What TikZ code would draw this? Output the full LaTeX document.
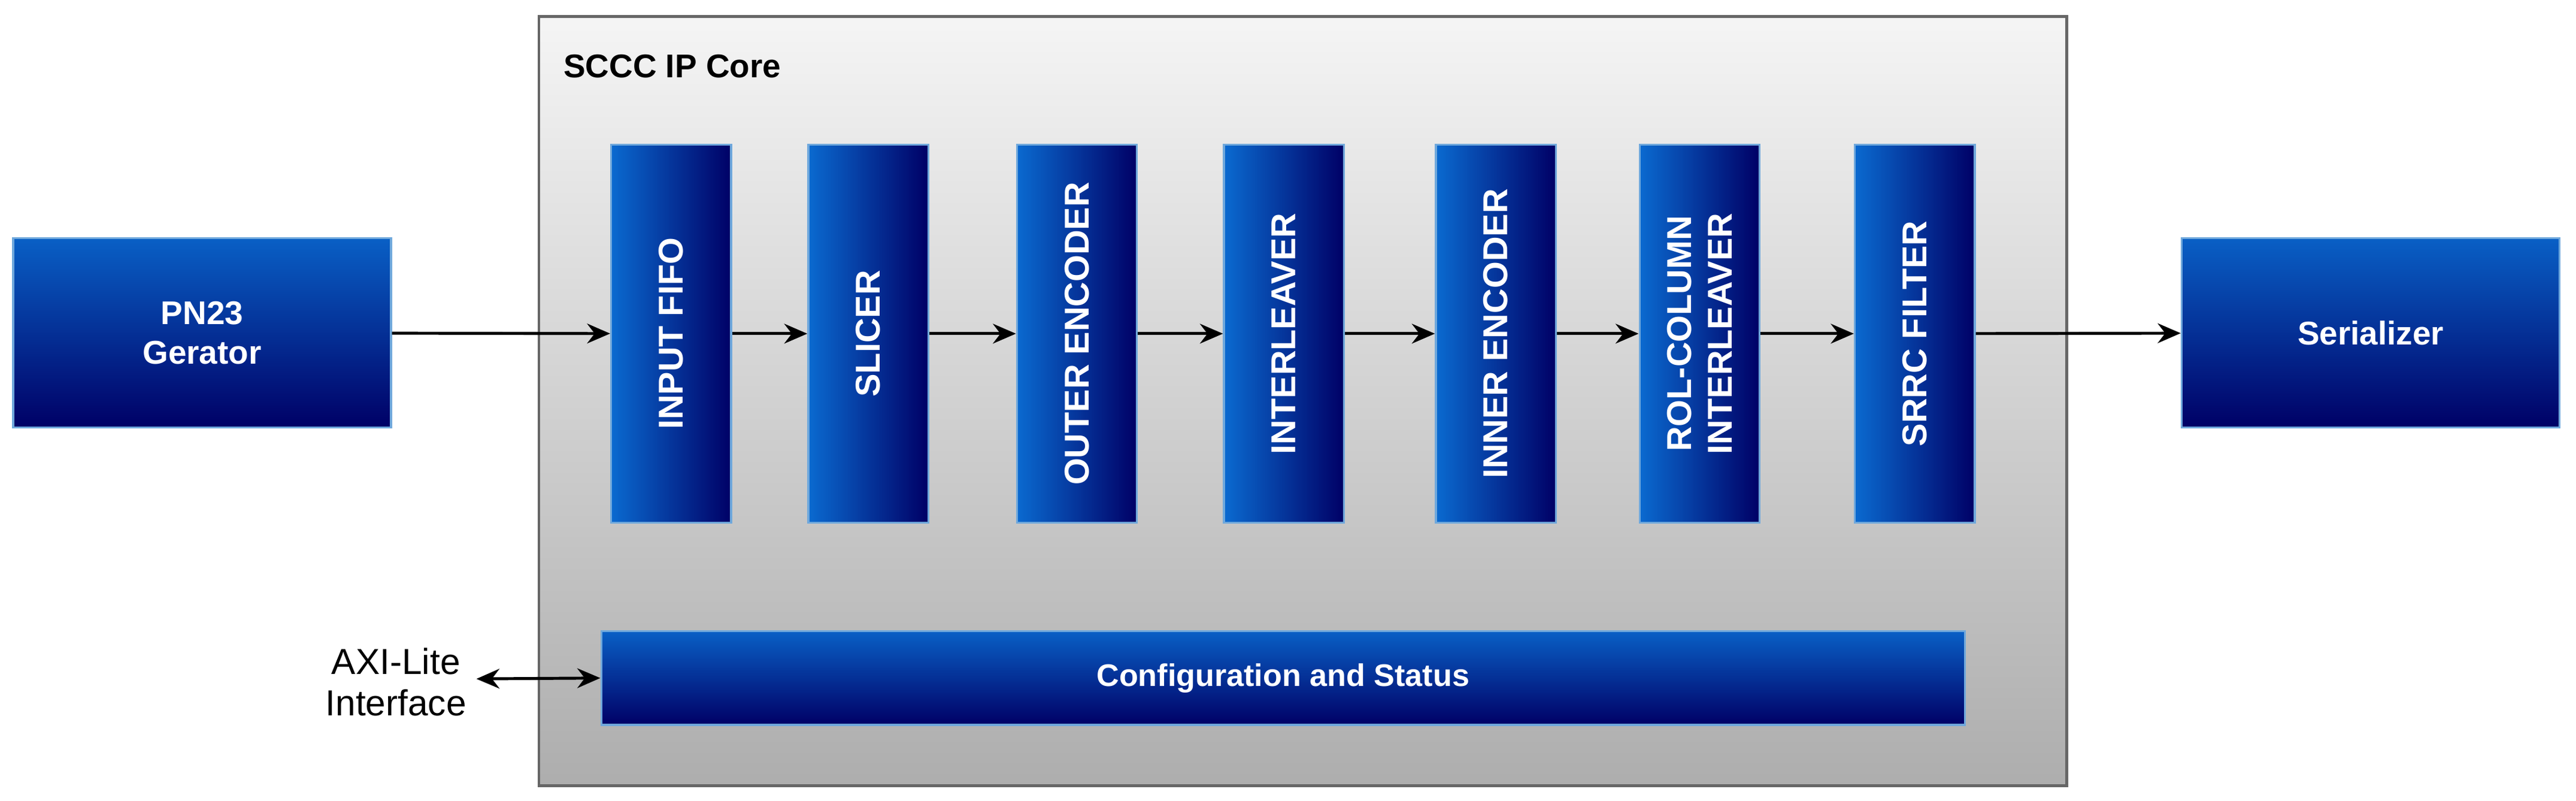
\documentclass[tikz,border=0pt]{standalone}
\usepackage{fontspec}
\setmainfont{Liberation Sans}
\usetikzlibrary{arrows.meta,shadings}
\definecolor{bl}{HTML}{0A6AD0}
\definecolor{dk}{HTML}{000066}
\definecolor{bd}{HTML}{6FA8DC}
\begin{document}
\begin{tikzpicture}[x=0.5pt,y=-0.5pt,
  vblk/.style={draw=bd,line width=0.6pt,left color=bl,right color=dk,text=white,font=\bfseries\fontsize{10.5}{12}\selectfont,inner sep=0pt,align=center},
  hblk/.style={draw=bd,line width=0.6pt,top color=bl!90!dk,bottom color=dk,text=white,font=\bfseries\fontsize{10}{12}\selectfont,inner sep=0pt,align=center},
  arr/.style={-{Stealth[length=7pt,width=6pt]},line width=0.9pt}]
\useasboundingbox (0,0) rectangle (1568,487);
\node[draw=black!60,line width=0.8pt,top color=black!4,bottom color=black!32,minimum width=465pt,minimum height=234pt,inner sep=0pt] (core) at (793,244) {};
\node[anchor=north west,font=\bfseries\fontsize{10}{12}\selectfont] (title) at (336,26) {SCCC IP Core};
\node[hblk,minimum width=115pt,minimum height=57.5pt] (pn) at (123,202.5) {PN23\\Gerator};
\node[hblk,minimum width=115pt,minimum height=57.5pt] (ser) at (1443,202.5) {Serializer};
\foreach \n/\x/\t in {fifo/408.5/INPUT FIFO, sl/528.5/SLICER, oe/655.5/OUTER ENCODER, il/781.5/INTERLEAVER, ie/910.5/INNER ENCODER, rc/1034.5/{ROL-COLUMN\\INTERLEAVER}, sr/1165.5/SRRC FILTER}
  \node[vblk,minimum width=36.5pt,minimum height=115pt] (\n) at (\x,203) {};
\foreach \n/\t in {fifo/INPUT FIFO, sl/SLICER, oe/OUTER ENCODER, il/INTERLEAVER, ie/INNER ENCODER, rc/{ROL-COLUMN\\INTERLEAVER}, sr/SRRC FILTER}
  \node[rotate=90,text=white,font=\bfseries\fontsize{10.5}{12.5}\selectfont,align=center] (\n t) at (\n) {\t};
\node[hblk,minimum width=415pt,minimum height=28.5pt,font=\bfseries\fontsize{9.5}{11}\selectfont] (cfg) at (781,412.5) {Configuration and Status};
\node[font=\fontsize{11}{12.5}\selectfont,align=center,inner sep=1pt] (axi) at (241,415) {AXI-Lite\\Interface};
\draw[arr] (pn) -- (fifo);
\draw[arr] (fifo) -- (sl);
\draw[arr] (sl) -- (oe);
\draw[arr] (oe) -- (il);
\draw[arr] (il) -- (ie);
\draw[arr] (ie) -- (rc);
\draw[arr] (rc) -- (sr);
\draw[arr] (sr) -- (ser);
\coordinate (a0) at (290,413);
\draw[{Stealth[length=7pt,width=6pt]}-{Stealth[length=7pt,width=6pt]},line width=0.9pt] (a0) -- (cfg.west);
\end{tikzpicture}
\end{document}
